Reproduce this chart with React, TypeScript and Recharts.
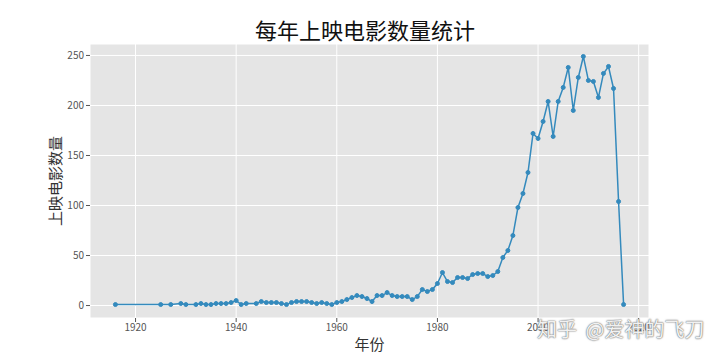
import { LineChart, Line, XAxis, YAxis, CartesianGrid } from "recharts";

// films released per year
const years = [
  1916, 1925, 1927, 1929, 1930, 1932, 1933, 1934, 1935, 1936, 1937, 1938, 1939, 1940,
  1941, 1942, 1944, 1945, 1946, 1947, 1948, 1949, 1950, 1951, 1952, 1953, 1954, 1955,
  1956, 1957, 1958, 1959, 1960, 1961, 1962, 1963, 1964, 1965, 1966, 1967, 1968, 1969,
  1970, 1971, 1972, 1973, 1974, 1975, 1976, 1977, 1978, 1979, 1980, 1981, 1982, 1983,
  1984, 1985, 1986, 1987, 1988, 1989, 1990, 1991, 1992, 1993, 1994, 1995, 1996, 1997,
  1998, 1999, 2000, 2001, 2002, 2003, 2004, 2005, 2006, 2007, 2008, 2009, 2010, 2011,
  2012, 2013, 2014, 2015, 2016, 2017,
];
const counts = [
  1, 1, 1, 2, 1, 1, 2, 1, 1, 2, 2, 2, 3, 5,
  1, 2, 2, 4, 3, 3, 3, 2, 1, 3, 4, 4, 4, 3,
  2, 3, 2, 1, 3, 4, 6, 8, 10, 9, 7, 4, 10, 10,
  13, 10, 9, 9, 9, 6, 9, 16, 14, 16, 22, 33, 24, 23,
  28, 28, 27, 31, 32, 32, 29, 30, 34, 48, 55, 70, 98, 112,
  133, 172, 167, 184, 204, 169, 204, 218, 238, 195, 228, 249, 225, 224,
  208, 232, 239, 217, 104, 1,
];
const xTicks = [1920, 1940, 1960, 1980, 2000, 2020];
const yTicks = [0, 50, 100, 150, 200, 250];

const data = years.map((year, i) => ({ year, count: counts[i] }));

const font = '"Noto Sans CJK SC", "DejaVu Sans", sans-serif';
const tickStyle = { fill: "#555555", fontSize: 10, fontFamily: font };

export default function App() {
  return (
    <div style={{ position: "absolute", left: 0, top: 0, width: 720, height: 360, background: "#fff", fontFamily: font }}>
      <div
        style={{
          position: "absolute",
          left: 0,
          width: 730,
          top: 14,
          textAlign: "center",
          fontSize: 22,
          lineHeight: "30px",
          color: "#111",
        }}
      >
        每年上映电影数量统计
      </div>
      <LineChart width={720} height={360} data={data} margin={{ top: 44, right: 71, left: 40, bottom: 4 }}>
        <CartesianGrid stroke="#ffffff" strokeWidth={1} fill="#e5e5e5" />
        <XAxis
          dataKey="year"
          type="number"
          domain={[1910.95, 2022.05]}
          ticks={xTicks}
          allowDataOverflow
          height={38}
          axisLine={false}
          tickLine={{ stroke: "#555555" }}
          tickSize={4}
          tick={tickStyle}
          label={{ value: "年份", position: "insideBottom", offset: 6, style: { fill: "#333", fontSize: 15, fontFamily: font } }}
        />
        <YAxis
          type="number"
          domain={[-12.45, 261.45]}
          ticks={yTicks}
          allowDataOverflow
          width={50}
          axisLine={false}
          tickLine={{ stroke: "#555555" }}
          tickSize={4}
          tick={tickStyle}
          label={{
            value: "上映电影数量",
            angle: -90,
            position: "insideLeft",
            offset: 16,
            style: { fill: "#333", fontSize: 15, fontFamily: font, textAnchor: "middle" },
          }}
        />
        <Line
          type="linear"
          dataKey="count"
          stroke="#348abd"
          strokeWidth={1.5}
          dot={{ r: 2, fill: "#348abd", stroke: "#348abd", strokeWidth: 1 }}
          isAnimationActive={false}
        />
      </LineChart>
      <div
        style={{
          position: "absolute",
          left: 537,
          top: 316,
          fontSize: 20,
          lineHeight: "26px",
          wordSpacing: 4,
          whiteSpace: "nowrap",
          color: "rgba(255,255,255,0.92)",
          textShadow: "0 0 2px #777, 0 0 1px #555",
        }}
      >
        知乎 @爱神的飞刀
      </div>
    </div>
  );
}
